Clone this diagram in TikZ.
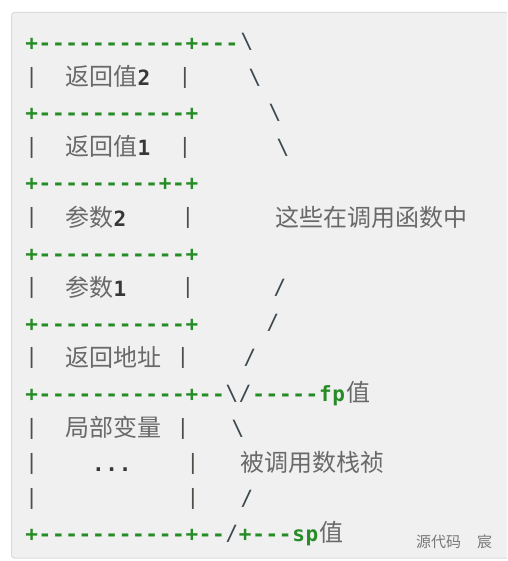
\documentclass[tikz,border=0pt]{standalone}
\usepackage{fontspec}
\newfontfamily\cjk{Noto Sans CJK SC}
\newfontfamily\mono{DejaVu Sans Mono}
\newlength\cw \setlength\cw{13.35pt}
\ExplSyntaxOn
\NewDocumentCommand\rep{mm}{\prg_replicate:nn{#1}{\makebox[\cw]{#2}}}
\ExplSyntaxOff
\definecolor{grc}{RGB}{38,140,38}
\definecolor{cjc}{RGB}{105,105,105}
\definecolor{dkc}{RGB}{55,55,55}
\definecolor{barc}{RGB}{80,76,72}
\definecolor{slc}{RGB}{60,72,78}
\definecolor{bgc}{RGB}{240,240,240}
\definecolor{bdc}{RGB}{218,218,218}
\definecolor{wmc}{RGB}{120,120,120}
\newcommand\dg[1]{{\color{dkc}\mono\bfseries\fontsize{21pt}{21pt}\selectfont #1}}
\tikzset{
  base/.style={inner sep=0pt, outer sep=0pt},
  gline/.style={base, anchor=base west, yshift=-7pt, text=grc,
    font={\mono\bfseries\fontsize{21pt}{21pt}\selectfont}},
  cjt/.style={base, anchor=base west, yshift=-7pt, text=cjc,
    font={\cjk\fontsize{24pt}{24pt}\selectfont}},
  barch/.style={base, anchor=base, yshift=-4.5pt, text=barc,
    font={\mono\fontsize{21pt}{21pt}\selectfont}},
  slch/.style={base, anchor=base, yshift=-5.5pt, text=slc,
    font={\mono\fontsize{21pt}{21pt}\selectfont}},
  dots/.style={base, anchor=base west, yshift=-7pt, text=dkc,
    font={\mono\bfseries\fontsize{21pt}{21pt}\selectfont}},
  wm/.style={base, anchor=base west, text=wmc,
    font={\cjk\fontsize{15pt}{15pt}\selectfont}}
}
\begin{document}
\begin{tikzpicture}[x=1pt,y=-1pt]
\useasboundingbox (0,0) rectangle (507,561);
\clip (0,0) rectangle (507,561);
\fill[white] (0,0) rectangle (507,561);
\filldraw[fill=bgc, draw=bdc, line width=1pt, rounded corners=3pt] (11.5,12.5) rectangle (520,558);
% line 1
\node[gline] (l1g) at (25,43.5) {\rep{1}{+}\rep{11}{-}\rep{1}{+}\rep{3}{-}};
\node[slch] (l1s) at (247,43.5) {\textbackslash};
% line 2
\node[barch] (l2a) at (31.7,78.6) {|};
\node[cjt] (l2t) at (65.5,78.6) {返回值\dg{2}};
\node[barch] (l2b) at (185,78.6) {|};
\node[slch] (l2s) at (255,78.6) {\textbackslash};
% line 3
\node[gline] (l3g) at (25,113.7) {\rep{1}{+}\rep{11}{-}\rep{1}{+}};
\node[slch] (l3s) at (275,113.7) {\textbackslash};
% line 4
\node[barch] (l4a) at (31.7,148.8) {|};
\node[cjt] (l4t) at (65.5,148.8) {返回值\dg{1}};
\node[barch] (l4b) at (185,148.8) {|};
\node[slch] (l4s) at (283,148.8) {\textbackslash};
% line 5
\node[gline] (l5g) at (25,183.9) {\rep{1}{+}\rep{9}{-}\rep{1}{+}\rep{1}{-}\rep{1}{+}};
% line 6
\node[barch] (l6a) at (31.7,219.0) {|};
\node[cjt] (l6t) at (65.5,219.0) {参数\dg{2}};
\node[barch] (l6b) at (188,219.0) {|};
\node[cjt] (l6c) at (275.5,219.0) {这些在调用函数中};
% line 7
\node[gline] (l7g) at (25,254.1) {\rep{1}{+}\rep{11}{-}\rep{1}{+}};
% line 8
\node[barch] (l8a) at (31.7,289.2) {|};
\node[cjt] (l8t) at (65.5,289.2) {参数\dg{1}};
\node[barch] (l8b) at (188,289.2) {|};
\node[slch] (l8s) at (280,289.2) {/};
% line 9
\node[gline] (l9g) at (25,324.3) {\rep{1}{+}\rep{11}{-}\rep{1}{+}};
\node[slch] (l9s) at (273,324.3) {/};
% line 10
\node[barch] (l10a) at (31.7,359.4) {|};
\node[cjt] (l10t) at (65.5,359.4) {返回地址};
\node[barch] (l10b) at (183,359.4) {|};
\node[slch] (l10s) at (250,359.4) {/};
% line 11
\node[gline] (l11g) at (25,394.5) {\rep{1}{+}\rep{11}{-}\rep{1}{+}\rep{2}{-}};
\node[slch] (l11s) at (231.9,394.5) {\textbackslash};
\node[slch] (l11u) at (245.3,394.5) {/};
\node[gline] (l11h) at (252,394.5) {\rep{5}{-}\rep{1}{f}\rep{1}{p}};
\node[cjt] (l11t) at (346.5,394.5) {值};
% line 12
\node[barch] (l12a) at (31.7,429.6) {|};
\node[cjt] (l12t) at (65.5,429.6) {局部变量};
\node[barch] (l12b) at (183,429.6) {|};
\node[slch] (l12s) at (238,429.6) {\textbackslash};
% line 13
\node[barch] (l13a) at (31.7,464.7) {|};
\node[dots] (l13d) at (91.75,464.7) {\rep{3}{.}};
\node[barch] (l13b) at (193,464.7) {|};
\node[cjt] (l13t) at (240.5,464.7) {被调用数栈祯};
% line 14
\node[barch] (l14a) at (31.7,499.8) {|};
\node[barch] (l14b) at (193,499.8) {|};
\node[slch] (l14s) at (247,499.8) {/};
% line 15
\node[gline] (l15g) at (25,534.9) {\rep{1}{+}\rep{11}{-}\rep{1}{+}\rep{2}{-}};
\node[slch] (l15s) at (231.9,534.9) {/};
\node[gline] (l15h) at (238.6,534.9) {\rep{1}{+}\rep{3}{-}\rep{1}{s}\rep{1}{p}};
\node[cjt] (l15t) at (319.5,534.9) {值};
% watermark
\node[wm] (wm1) at (416,547.5) {源代码};
\node[wm] (wm2) at (477,547.5) {宸};
\end{tikzpicture}
\end{document}
